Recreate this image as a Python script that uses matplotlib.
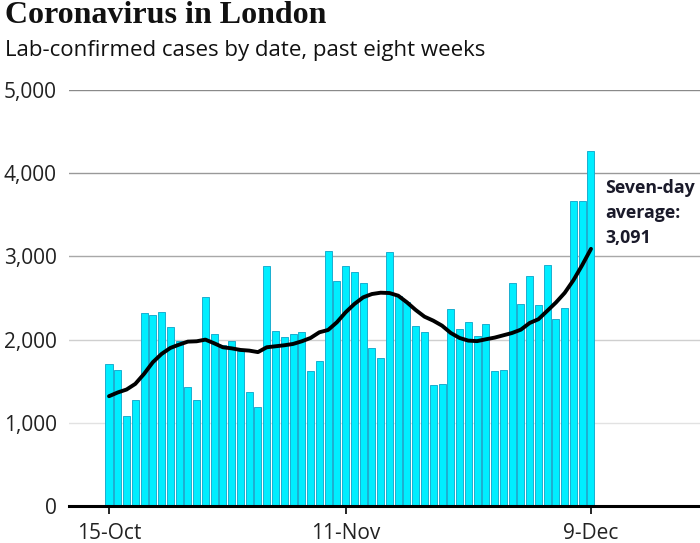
import matplotlib
matplotlib.use("Agg")
import matplotlib.pyplot as plt
import numpy as np
import pandas as pd

# ---- data ----
start_date = "2020-10-15"
cases = [1705, 1637, 1088, 1276, 2325, 2297, 2337, 2154, 1987, 1425,
         1276, 2514, 2070, 1930, 1988, 1860, 1374, 1196, 2890, 2108,
         2028, 2068, 2088, 1624, 1744, 3060, 2708, 2888, 2808, 2676,
         1900, 1780, 3054, 2530, 2450, 2166, 2095, 1458, 1468, 2370,
         2127, 2217, 2048, 2185, 1622, 1639, 2675, 2434, 2759, 2422,
         2892, 2253, 2386, 3671, 3663, 4265]
avg7 = [1320, 1365, 1400, 1468, 1588, 1728, 1828, 1900, 1940, 1976,
        1980, 2000, 1956, 1908, 1895, 1876, 1868, 1850, 1908, 1920,
        1932, 1948, 1980, 2020, 2088, 2116, 2208, 2328, 2428, 2508,
        2548, 2564, 2560, 2528, 2448, 2356, 2276, 2228, 2168, 2080,
        2020, 1988, 1982, 2004, 2024, 2052, 2080, 2120, 2200, 2245,
        2345, 2446, 2562, 2715, 2896, 3091]
yticks = [0, 1000, 2000, 3000, 4000, 5000]
xtick_labels = ["15-Oct", "11-Nov", "9-Dec"]
xtick_dates = ["2020-10-15", "2020-11-11", "2020-12-09"]

x = np.arange(len(cases))
xt = [(pd.Timestamp(d) - pd.Timestamp(start_date)).days for d in xtick_dates]

fig = plt.figure(figsize=(7.0, 5.43), dpi=100)
ax = fig.add_axes([0.099, 0.0681, 0.901, 0.7661])

grid_colors = {1000: "#e2e2e2", 2000: "#cfcfcf", 3000: "#a8a8a8",
               4000: "#999999", 5000: "#8a8a8a"}
for yv in yticks[1:]:
    ax.axhline(yv, color=grid_colors[yv], lw=1.0, zorder=0)

ax.bar(x, cases, width=0.8, color="#00eeff", edgecolor="#1aaed0",
       linewidth=0.7, zorder=2)
ax.plot(x, avg7, color="black", lw=2.8, solid_capstyle="round",
        solid_joinstyle="round", zorder=3)

ax.set_xlim(-4.53, 67.44)
ax.set_ylim(0, 5000)

for s in ["top", "right", "left"]:
    ax.spines[s].set_visible(False)
ax.spines["bottom"].set_linewidth(2.2)
ax.spines["bottom"].set_color("black")
ax.spines["bottom"].set_zorder(4)

ax.set_yticks(yticks)
ax.set_yticklabels([f"{v:,}" for v in yticks], fontsize=15,
                   family="Open Sans", color="#222222")
ax.tick_params(axis="y", length=0, pad=9)

ax.set_xticks(xt)
ax.set_xticklabels(xtick_labels, fontsize=15, family="Open Sans",
                   color="#222222")
ax.tick_params(axis="x", length=6, width=1.2, color="black", pad=6.5)

ax.text(x[-1] + 1.6, avg7[-1] + 25, "Seven-day\naverage:\n" + f"{avg7[-1]:,}",
        fontsize=12.8, fontweight="bold", family="Open Sans", color="#1a1a2a",
        va="bottom", ha="left", linespacing=1.5)

fig.text(0.007, 0.998, "Coronavirus in London", fontsize=23, fontweight="bold",
         family="Liberation Serif", color="#111111", va="top", ha="left")
fig.text(0.007, 0.927, "Lab-confirmed cases by date, past eight weeks",
         fontsize=16, family="Open Sans", color="#111111", va="top", ha="left")

fig.savefig("out.png", dpi=100)
